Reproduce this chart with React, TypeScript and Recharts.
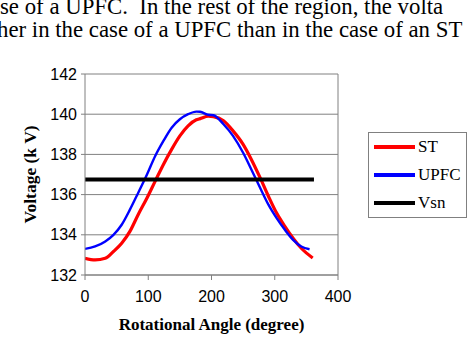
import React from 'react';
import { LineChart, Line, XAxis, YAxis, CartesianGrid, ReferenceLine } from 'recharts';

const stAngle = [0, 16, 32, 45, 58, 71, 84, 98, 111, 124, 137, 150, 163, 176, 182, 195, 203, 219, 234, 250, 263, 277, 290, 303, 316, 329, 342, 360];
const stVolt = [132.83, 132.75, 132.83, 133.17, 133.58, 134.17, 135.0, 135.83, 136.67, 137.5, 138.25, 138.92, 139.42, 139.72, 139.78, 139.9, 139.88, 139.67, 139.17, 138.5, 137.75, 136.83, 135.92, 135.08, 134.42, 133.83, 133.33, 132.85];

const upfcAngle = [0, 16, 32, 45, 58, 71, 84, 98, 111, 124, 137, 150, 163, 176, 182, 195, 203, 219, 234, 250, 263, 277, 290, 303, 316, 329, 342, 355];
const upfcVolt = [133.3, 133.42, 133.67, 134.0, 134.5, 135.25, 136.08, 137.0, 137.92, 138.67, 139.33, 139.75, 140.0, 140.13, 140.12, 139.97, 139.95, 139.5, 138.92, 138.08, 137.25, 136.33, 135.5, 134.83, 134.25, 133.75, 133.42, 133.28];

const vsnAngle = [0, 362];
const vsnVolt = [136.75, 136.75];

const xTicks = [0, 100, 200, 300, 400];
const yTicks = [132, 134, 136, 138, 140, 142];

const textLine1 = 'se of a UPFC.  In the rest of the region, the volta';
const textLine2 = 'her in the case of a UPFC than in the case of an ST';

const stData = stAngle.map((a, i) => ({ angle: a, v: stVolt[i] }));
const upfcData = upfcAngle.map((a, i) => ({ angle: a, v: upfcVolt[i] }));
const vsnData = vsnAngle.map((a, i) => ({ angle: a, v: vsnVolt[i] }));

const legendItems = [
  { name: 'ST', color: '#ff0000' },
  { name: 'UPFC', color: '#0000ff' },
  { name: 'Vsn', color: '#000000' },
];

const LegendBox = () => (
  <div
    style={{
      position: 'absolute',
      left: 368,
      top: 132,
      width: 99,
      height: 86,
      border: '1px solid #808080',
      boxSizing: 'border-box',
      background: '#fff',
      fontFamily: '"Liberation Serif", "Times New Roman", serif',
      fontSize: 17,
      color: '#000',
    }}
  >
    {legendItems.map((it, i) => (
      <div key={it.name} style={{ position: 'absolute', left: 5, top: 4 + i * 28, height: 20, display: 'flex', alignItems: 'center' }}>
        <div style={{ width: 41, height: 4, background: it.color, marginRight: 3 }} />
        <span>{it.name}</span>
      </div>
    ))}
  </div>
);

const tickStyle = { fontFamily: '"Liberation Sans", Arial, sans-serif', fontSize: 16, fill: '#000' };

export default function App() {
  return (
    <div style={{ position: 'absolute', left: 0, top: 0, width: 474, height: 351, background: '#fff', overflow: 'hidden' }}>
      <div
        style={{
          position: 'absolute',
          left: 0,
          top: -5,
          width: 474,
          overflow: 'hidden',
          fontFamily: '"Liberation Serif", "Times New Roman", serif',
          fontSize: 22.8,
          lineHeight: '23px',
          whiteSpace: 'pre',
          color: '#000',
        }}
      >
        <div>{textLine1}</div>
        <div style={{ marginLeft: -3 }}>{textLine2}</div>
      </div>
      <LineChart
        width={474}
        height={351}
        margin={{ top: 74, right: 136, bottom: 46, left: 40 }}
        style={{ position: 'absolute', left: 0, top: 0 }}
      >
        <CartesianGrid vertical={false} stroke="#808080" strokeWidth={1} />
        <XAxis
          type="number"
          dataKey="angle"
          domain={[0, 400]}
          ticks={xTicks}
          allowDataOverflow
          stroke="#808080"
          tick={tickStyle}
          tickSize={5}
          tickMargin={11}
          height={30}
          label={{
            value: 'Rotational Angle (degree)',
            position: 'insideBottom',
            offset: -25,
            style: { fontFamily: '"Liberation Serif", "Times New Roman", serif', fontWeight: 'bold', fontSize: 17, fill: '#000' },
          }}
        />
        <YAxis
          type="number"
          domain={[132, 142]}
          ticks={yTicks}
          allowDataOverflow
          stroke="#808080"
          tick={tickStyle}
          tickSize={4}
          tickMargin={4}
          width={45}
          label={{
            value: 'Voltage (k V)',
            angle: -90,
            position: 'insideLeft',
            offset: -10,
            style: { textAnchor: 'middle', fontFamily: '"Liberation Serif", "Times New Roman", serif', fontWeight: 'bold', fontSize: 17.5, fill: '#000' },
          }}
        />
        <ReferenceLine x={400} stroke="#808080" strokeWidth={1} />
        <Line data={stData} dataKey="v" name="ST" stroke="#ff0000" strokeWidth={3.2} dot={false} isAnimationActive={false} type="monotone" />
        <Line data={upfcData} dataKey="v" name="UPFC" stroke="#0000ff" strokeWidth={2.4} dot={false} isAnimationActive={false} type="monotone" />
        <Line data={vsnData} dataKey="v" name="Vsn" stroke="#000000" strokeWidth={4} dot={false} isAnimationActive={false} type="linear" />
      </LineChart>
      <LegendBox />
    </div>
  );
}
